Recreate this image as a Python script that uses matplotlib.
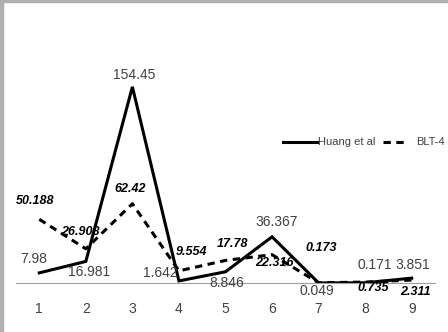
import matplotlib
matplotlib.use("Agg")
import matplotlib.pyplot as plt
from matplotlib.patches import Rectangle
from matplotlib.lines import Line2D

categories = [1, 2, 3, 4, 5, 6, 7, 8, 9]
huang = [7.98, 16.981, 154.45, 1.642, 8.846, 36.367, 0.049, 0.171, 3.851]
blt4 = [50.188, 26.908, 62.42, 9.554, 17.78, 22.316, 0.173, 0.735, 2.311]
huang_labels = ["7.98", "16.981", "154.45", "1.642", "8.846", "36.367", "0.049", "0.171", "3.851"]
blt4_labels = ["50.188", "26.908", "62.42", "9.554", "17.78", "22.316", "0.173", "0.735", "2.311"]
series_names = ["Huang et al", "BLT-4"]

# label offsets in pixels (styling)
huang_off = [(-6, 14), (3, -11), (2, 12), (-19, 8), (1, -11), (5, 15), (-2, -8), (10, 18), (1, 13)]
blt_off = [(-4, 18), (-5, 17), (-2, 15), (13, 19), (7, 16), (2, -8), (3, 35), (8, -6), (4, -12)]

FONT = ["Liberation Sans Narrow", "Liberation Sans", "DejaVu Sans"]
plt.rcParams['font.family'] = FONT

W, H = 448, 332
fig = plt.figure(figsize=(W / 100, H / 100), dpi=100)
fig.patch.set_facecolor("white")
ax = fig.add_axes([16 / W, 49 / H, 419 / W, 273 / H])
ax.set_xlim(0.5, 9.5)
ax.set_ylim(0, 215)

LW = 2.2
DASH = (2.4, 1.8)
ax.plot(categories, huang, color="black", lw=LW, solid_joinstyle="miter")
ax.plot(categories, blt4, color="black", lw=LW, dashes=DASH)

for x, y, t, off in zip(categories, huang, huang_labels, huang_off):
    ax.annotate(t, (x, y), xytext=off, textcoords="offset pixels", ha="center", va="center",
                fontsize=10, color="#404040")
for x, y, t, off in zip(categories, blt4, blt4_labels, blt_off):
    ax.annotate(t, (x, y), xytext=off, textcoords="offset pixels", ha="center", va="center",
                fontsize=9, color="black", fontweight="bold", fontstyle="italic")

for s in ["top", "right", "left"]:
    ax.spines[s].set_visible(False)
ax.spines["bottom"].set_color("#a0a0a0")
ax.spines["bottom"].set_linewidth(0.8)
ax.set_yticks([])
ax.set_xticks(categories)
ax.set_xticklabels([str(c) for c in categories])
ax.tick_params(axis="x", length=0, pad=14, labelsize=10, labelcolor="#404040")

# manual legend (figure pixel coordinates)
ly = 1 - 142 / H
fig.lines.append(Line2D([283 / W, 317 / W], [ly, ly], transform=fig.transFigure, color="black", lw=LW))
fig.text(318 / W, ly, series_names[0], ha="left", va="center", fontsize=8, color="#404040")
fig.lines.append(Line2D([383 / W, 408 / W], [ly, ly], transform=fig.transFigure, color="black", lw=LW,
                        dashes=DASH))
fig.text(416 / W, ly, series_names[1], ha="left", va="center", fontsize=8, color="#404040")

# gray border strips (top and left)
fig.patches.append(Rectangle((0, 0), 3 / W, 1, transform=fig.transFigure, color="#b0b0b0", zorder=10))
fig.patches.append(Rectangle((0, 1 - 2 / H), 1, 2 / H, transform=fig.transFigure, color="#b0b0b0", zorder=10))

fig.savefig("out.png", dpi=100)
